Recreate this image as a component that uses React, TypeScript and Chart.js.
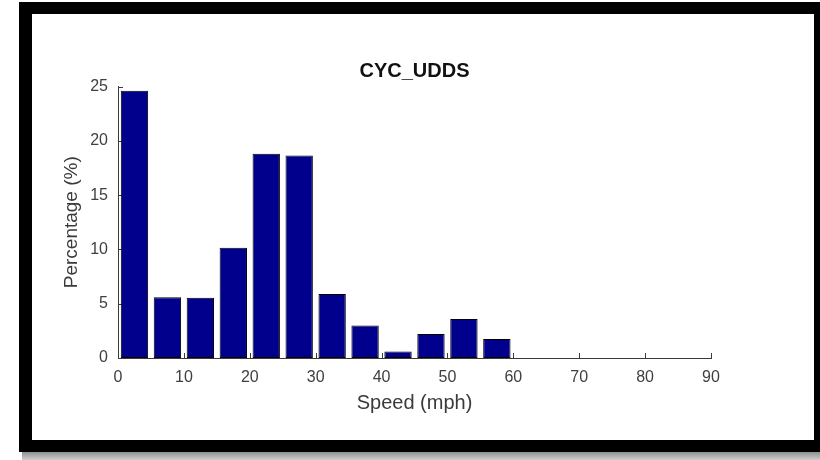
import { useEffect, useRef } from "react"
import { Chart, registerables } from "chart.js"

Chart.register(...registerables)

// histogram of speeds, 5 mph bins
const speedBins = [2.5, 7.5, 12.5, 17.5, 22.5, 27.5, 32.5, 37.5, 42.5, 47.5, 52.5, 57.5, 62.5, 67.5, 72.5, 77.5, 82.5, 87.5]
const percentages = [24.6, 5.6, 5.55, 10.15, 18.8, 18.65, 5.9, 3.0, 0.6, 2.2, 3.6, 1.75, 0, 0, 0, 0, 0, 0]
const xTicks = [0, 10, 20, 30, 40, 50, 60, 70, 80, 90]
const yTicks = [0, 5, 10, 15, 20, 25]

const FONT = "'Liberation Sans', Arial, sans-serif"

// matlab style ticks pointing into the axes
const inwardTicks = {
  id: "inwardTicks",
  beforeDatasetsDraw(chart: any) {
    const { ctx, chartArea, scales } = chart
    ctx.save()
    ctx.strokeStyle = "#3a3a3a"
    ctx.lineWidth = 1
    ctx.beginPath()
    xTicks.forEach((v) => {
      const px = Math.round(scales.x.getPixelForValue(v)) + 0.5
      ctx.moveTo(px, chartArea.bottom)
      ctx.lineTo(px, chartArea.bottom - 5)
    })
    yTicks.forEach((v) => {
      const py = Math.round(scales.y.getPixelForValue(v)) + 0.5
      ctx.moveTo(chartArea.left, py)
      ctx.lineTo(chartArea.left + 5, py)
    })
    ctx.stroke()
    ctx.restore()
  },
}

const App = () => {
  const canvasRef = useRef<HTMLCanvasElement | null>(null)

  useEffect(() => {
    if (!canvasRef.current) return

    const chart = new Chart(canvasRef.current, {
      type: "bar",
      data: {
        datasets: [
          {
            label: "Percentage",
            data: speedBins.map((s, i) => ({ x: s, y: percentages[i] })),
            backgroundColor: "#00008c",
            borderColor: "#000000",
            borderWidth: 1,
            borderSkipped: false,
            barPercentage: 0.83,
            categoryPercentage: 1,
          },
        ],
      },
      options: {
        responsive: false,
        animation: false,
        layout: { padding: { left: 0, right: 109, top: 0, bottom: 0 } },
        plugins: {
          legend: { display: false },
          tooltip: { enabled: false },
          title: {
            display: true,
            fullSize: false,
            text: "CYC_UDDS",
            color: "#111111",
            font: { family: FONT, size: 20, weight: "bold" },
            padding: { top: 59, bottom: 3.5 },
          },
        },
        scales: {
          x: {
            type: "linear",
            offset: false,
            min: 0,
            max: 90,
            afterBuildTicks: (s: any) => {
              s.ticks = xTicks.map((v) => ({ value: v }))
            },
            afterFit: (s: any) => {
              s.height = 102
            },
            grid: { display: false, drawTicks: false },
            border: { display: true, color: "#3a3a3a", width: 1 },
            ticks: {
              color: "#404040",
              font: { family: FONT, size: 16 },
              padding: 10,
              maxRotation: 0,
              autoSkip: false,
            },
            title: {
              display: true,
              text: "Speed (mph)",
              color: "#3a3a3a",
              font: { family: FONT, size: 20 },
              padding: { top: 0, bottom: 45 },
            },
          },
          y: {
            min: 0,
            max: 25,
            afterBuildTicks: (s: any) => {
              s.ticks = yTicks.map((v) => ({ value: v }))
            },
            afterFit: (s: any) => {
              s.width = 118
            },
            grid: { display: false, drawTicks: false },
            border: { display: true, color: "#3a3a3a", width: 1 },
            ticks: {
              color: "#404040",
              font: { family: FONT, size: 16 },
              padding: 10,
            },
            title: {
              display: true,
              text: "Percentage (%)",
              color: "#3a3a3a",
              font: { family: FONT, size: 19 },
              padding: { top: 60.6, bottom: 0 },
            },
          },
        },
      },
      plugins: [inwardTicks],
    })

    return () => {
      chart.destroy()
    }
  }, [])

  return (
    <div style={{ position: "fixed", left: 0, top: 0, width: 820, height: 460, background: "#ffffff", overflow: "hidden" }}>
      {/* black frame with a soft shadow under it */}
      <div style={{ position: "absolute", left: 22, top: 452, width: 798, height: 8, background: "linear-gradient(#8f8f8f, #cfcfcf)" }} />
      <div style={{ position: "absolute", left: 19, top: 2, width: 801, height: 450, background: "#000000" }} />
      <div style={{ position: "absolute", left: 32, top: 14, width: 782, height: 426, background: "#ffffff" }} />
      <canvas ref={canvasRef} width={820} height={460} style={{ position: "absolute", left: 0, top: 0 }} />
    </div>
  )
}

export default App
